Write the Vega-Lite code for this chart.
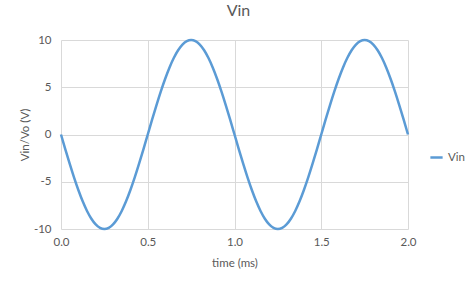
{
  "$schema": "https://vega.github.io/schema/vega-lite/v6.json",
  "autosize": "none",
  "width": 347,
  "height": 189,
  "padding": {"left": 61, "top": 40, "right": 68, "bottom": 60},
  "background": "white",
  "title": {"text": "Vin", "fontSize": 16, "font": "Lato", "fontWeight": "normal", "color": "#595959", "offset": 15, "dx": 4},
  "config": {"view": {"stroke": null}, "font": "Lato"},
  "data": {"values": [
    {"t": 0, "v": 0, "s": "Vin"}, {"t": 0.025, "v": -1.564, "s": "Vin"}, {"t": 0.05, "v": -3.09, "s": "Vin"}, {"t": 0.075, "v": -4.54, "s": "Vin"}, {"t": 0.1, "v": -5.878, "s": "Vin"}, {"t": 0.125, "v": -7.071, "s": "Vin"}, {"t": 0.15, "v": -8.09, "s": "Vin"}, {"t": 0.175, "v": -8.91, "s": "Vin"}, {"t": 0.2, "v": -9.511, "s": "Vin"}, {"t": 0.225, "v": -9.877, "s": "Vin"}, {"t": 0.25, "v": -10, "s": "Vin"},
    {"t": 0.275, "v": -9.877, "s": "Vin"}, {"t": 0.3, "v": -9.511, "s": "Vin"}, {"t": 0.325, "v": -8.91, "s": "Vin"}, {"t": 0.35, "v": -8.09, "s": "Vin"}, {"t": 0.375, "v": -7.071, "s": "Vin"}, {"t": 0.4, "v": -5.878, "s": "Vin"}, {"t": 0.425, "v": -4.54, "s": "Vin"}, {"t": 0.45, "v": -3.09, "s": "Vin"}, {"t": 0.475, "v": -1.564, "s": "Vin"}, {"t": 0.5, "v": 0, "s": "Vin"},
    {"t": 0.525, "v": 1.564, "s": "Vin"}, {"t": 0.55, "v": 3.09, "s": "Vin"}, {"t": 0.575, "v": 4.54, "s": "Vin"}, {"t": 0.6, "v": 5.878, "s": "Vin"}, {"t": 0.625, "v": 7.071, "s": "Vin"}, {"t": 0.65, "v": 8.09, "s": "Vin"}, {"t": 0.675, "v": 8.91, "s": "Vin"}, {"t": 0.7, "v": 9.511, "s": "Vin"}, {"t": 0.725, "v": 9.877, "s": "Vin"}, {"t": 0.75, "v": 10, "s": "Vin"},
    {"t": 0.775, "v": 9.877, "s": "Vin"}, {"t": 0.8, "v": 9.511, "s": "Vin"}, {"t": 0.825, "v": 8.91, "s": "Vin"}, {"t": 0.85, "v": 8.09, "s": "Vin"}, {"t": 0.875, "v": 7.071, "s": "Vin"}, {"t": 0.9, "v": 5.878, "s": "Vin"}, {"t": 0.925, "v": 4.54, "s": "Vin"}, {"t": 0.95, "v": 3.09, "s": "Vin"}, {"t": 0.975, "v": 1.564, "s": "Vin"}, {"t": 1.0, "v": 0, "s": "Vin"},
    {"t": 1.025, "v": -1.564, "s": "Vin"}, {"t": 1.05, "v": -3.09, "s": "Vin"}, {"t": 1.075, "v": -4.54, "s": "Vin"}, {"t": 1.1, "v": -5.878, "s": "Vin"}, {"t": 1.125, "v": -7.071, "s": "Vin"}, {"t": 1.15, "v": -8.09, "s": "Vin"}, {"t": 1.175, "v": -8.91, "s": "Vin"}, {"t": 1.2, "v": -9.511, "s": "Vin"}, {"t": 1.225, "v": -9.877, "s": "Vin"}, {"t": 1.25, "v": -10, "s": "Vin"},
    {"t": 1.275, "v": -9.877, "s": "Vin"}, {"t": 1.3, "v": -9.511, "s": "Vin"}, {"t": 1.325, "v": -8.91, "s": "Vin"}, {"t": 1.35, "v": -8.09, "s": "Vin"}, {"t": 1.375, "v": -7.071, "s": "Vin"}, {"t": 1.4, "v": -5.878, "s": "Vin"}, {"t": 1.425, "v": -4.54, "s": "Vin"}, {"t": 1.45, "v": -3.09, "s": "Vin"}, {"t": 1.475, "v": -1.564, "s": "Vin"}, {"t": 1.5, "v": 0, "s": "Vin"},
    {"t": 1.525, "v": 1.564, "s": "Vin"}, {"t": 1.55, "v": 3.09, "s": "Vin"}, {"t": 1.575, "v": 4.54, "s": "Vin"}, {"t": 1.6, "v": 5.878, "s": "Vin"}, {"t": 1.625, "v": 7.071, "s": "Vin"}, {"t": 1.65, "v": 8.09, "s": "Vin"}, {"t": 1.675, "v": 8.91, "s": "Vin"}, {"t": 1.7, "v": 9.511, "s": "Vin"}, {"t": 1.725, "v": 9.877, "s": "Vin"}, {"t": 1.75, "v": 10, "s": "Vin"},
    {"t": 1.775, "v": 9.877, "s": "Vin"}, {"t": 1.8, "v": 9.511, "s": "Vin"}, {"t": 1.825, "v": 8.91, "s": "Vin"}, {"t": 1.85, "v": 8.09, "s": "Vin"}, {"t": 1.875, "v": 7.071, "s": "Vin"}, {"t": 1.9, "v": 5.878, "s": "Vin"}, {"t": 1.925, "v": 4.54, "s": "Vin"}, {"t": 1.95, "v": 3.09, "s": "Vin"}, {"t": 1.975, "v": 1.564, "s": "Vin"}, {"t": 2.0, "v": 0, "s": "Vin"}
  ]},
  "mark": {"type": "line", "strokeWidth": 2.5, "interpolate": "monotone"},
  "encoding": {
    "x": {"field": "t", "type": "quantitative", "scale": {"domain": [0, 2], "nice": false},
      "axis": {"title": "time (ms)", "values": [0, 0.5, 1, 1.5, 2], "format": ".1f", "labelFlush": false, "labelOverlap": false, "domain": false, "ticks": false, "gridColor": "#d9d9d9", "labelColor": "#595959", "labelFontSize": 11.5, "labelPadding": 7, "titleColor": "#595959", "titleFontSize": 11.5, "titleFontWeight": "normal", "titlePadding": 10, "labelFont": "Lato", "titleFont": "Lato"}},
    "y": {"field": "v", "type": "quantitative", "scale": {"domain": [-10, 10], "nice": false},
      "axis": {"title": "Vin/Vo (V)", "values": [-10, -5, 0, 5, 10], "labelExpr": "datum.value < 0 ? '-' + abs(datum.value) : '' + datum.value", "labelFlush": false, "labelOverlap": false, "domain": false, "ticks": false, "gridColor": "#d9d9d9", "labelColor": "#595959", "labelFontSize": 11.5, "labelPadding": 10, "titleColor": "#595959", "titleFontSize": 11.5, "titleFontWeight": "normal", "titlePadding": 3, "labelFont": "Lato", "titleFont": "Lato"}},
    "color": {"field": "s", "type": "nominal", "scale": {"range": ["#5b9bd5"]},
      "legend": {"title": null, "orient": "none", "legendX": 368, "legendY": 110, "symbolType": "stroke", "symbolStrokeWidth": 2.5, "symbolSize": 150, "labelColor": "#595959", "labelFontSize": 11.5, "labelFont": "Lato"}}
  }
}
